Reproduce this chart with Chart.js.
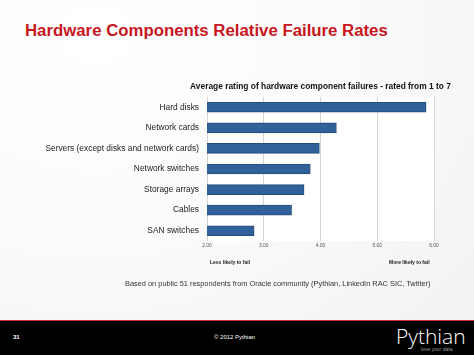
<!DOCTYPE html>
<html>
<head>
<meta charset="utf-8">
<script src="https://cdn.jsdelivr.net/npm/chart.js@4"></script>
<style>
  html, body { margin: 0; padding: 0; }
  body {
    width: 474px; height: 355px; position: relative; overflow: hidden;
    background: radial-gradient(ellipse at 20% 10%, #ffffff 0%, #fbfbfb 45%, #f1f1f1 100%);
    font-family: "Liberation Sans", Arial, sans-serif;
  }
  .slide-title {
    position: absolute; left: 25px; top: 21px;
    color: #c8161d; font-weight: bold; font-size: 16.8px; white-space: nowrap;
  }
  #wrap { position: absolute; left: 0; top: 0; width: 474px; height: 320px; }
  .axis-note { position: absolute; top: 259px; font-size: 5px; font-weight: bold; color: #222; white-space: nowrap; }
  .footnote { position: absolute; left: 125px; top: 279px; font-size: 7.4px; color: #333; white-space: nowrap; }
  .footer {
    position: absolute; left: 0; top: 320px; width: 474px; height: 35px;
    background: #000; border-top: 1.5px solid #c33;
  }
  .page { position: absolute; left: 13px; top: 13px; color: #fff; font-size: 6px; font-weight: bold; }
  .copy { position: absolute; left: 214px; top: 13px; color: #fff; font-size: 6px; }
  .brand { position: absolute; left: 396px; top: 1px; color: #fff; font-family: "Open Sans", sans-serif; font-weight: 300; font-size: 21px; }
  .tag { position: absolute; left: 421px; top: 25px; color: #999; font-size: 5px; }
</style>
</head>
<body>
<div class="slide-title">Hardware Components Relative Failure Rates</div>
<div id="wrap"><canvas id="chart"></canvas></div>
<div class="axis-note" style="left:210px">Less likely to fail</div>
<div class="axis-note" style="left:389px">More likely to fail</div>
<div class="footnote">Based on public 51 respondents from Oracle community (Pythian, LinkedIn RAC SIC, Twitter)</div>
<div class="footer">
  <div class="page">31</div>
  <div class="copy">© 2012 Pythian</div>
  <div class="brand">Pythian</div>
  <div class="tag">love your data</div>
</div>
<script>
  const chartTitle = "Average rating of hardware component failures - rated from 1 to 7";
  const components = [
    "Hard disks",
    "Network cards",
    "Servers (except disks and network cards)",
    "Network switches",
    "Storage arrays",
    "Cables",
    "SAN switches",
  ];
  const ratings = [5.86, 4.28, 3.98, 3.82, 3.71, 3.49, 2.83];
  const tickValues = [2, 3, 4, 5, 6];

  // white panel behind the plot + title centred over it (no width squeeze)
  const panel = {
    id: "panel",
    beforeDraw(chart) {
      const { ctx, chartArea } = chart;
      ctx.save();
      ctx.fillStyle = "#ffffff";
      ctx.fillRect(chartArea.left, chartArea.top, chartArea.right - chartArea.left, chartArea.bottom - chartArea.top);
      ctx.restore();
    },
    afterDraw(chart) {
      const { ctx, chartArea } = chart;
      ctx.save();
      ctx.fillStyle = "#111";
      ctx.font = "bold 8.4px 'Liberation Sans', Arial, sans-serif";
      ctx.textAlign = "center";
      ctx.textBaseline = "middle";
      ctx.fillText(chartTitle, (chartArea.left + chartArea.right) / 2, chartArea.top - 10.5);
      ctx.restore();
    },
  };

  new Chart(document.getElementById("chart"), {
    type: "bar",
    data: {
      labels: components,
      datasets: [{
        data: ratings,
        backgroundColor: "#31619a",
        borderColor: "#244d78",
        borderWidth: 1,
        barThickness: 10,
      }],
    },
    options: {
      indexAxis: "y",
      responsive: true,
      maintainAspectRatio: false,
      animation: false,
      layout: { padding: { top: 97, right: 40, bottom: 69, left: 0 } },
      scales: {
        x: {
          min: tickValues[0],
          max: tickValues[tickValues.length - 1],
          afterBuildTicks: (scale) => { scale.ticks = tickValues.map((v) => ({ value: v })); },
          ticks: {
            padding: 2,
            color: "#555",
            font: { size: 5, family: "Liberation Sans" },
            callback: (v) => Number(v).toFixed(2),
          },
          grid: { color: "#d4d4d4", drawTicks: false },
          border: { display: false },
        },
        y: {
          afterFit: (scale) => { scale.width = 207; },
          ticks: {
            padding: 0,
            color: "#222",
            font: { size: 8.4, family: "Liberation Sans" },
          },
          grid: { display: false },
          border: { display: false },
        },
      },
      plugins: {
        legend: { display: false },
        tooltip: { enabled: false },
        title: { display: false },
      },
    },
    plugins: [panel],
  });
</script>
</body>
</html>
